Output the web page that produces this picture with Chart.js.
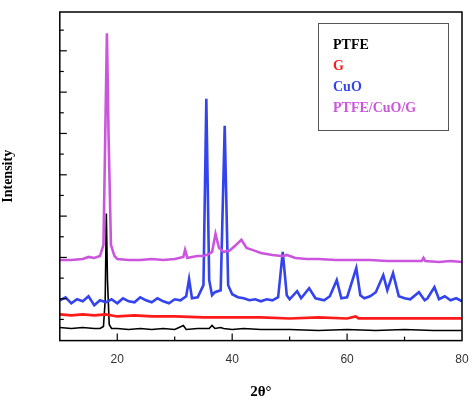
<!DOCTYPE html>
<html><head><meta charset="utf-8">
<script src="https://cdn.jsdelivr.net/npm/chart.js@4"></script>
<style>html,body{margin:0;padding:0;background:#fff}#w{width:474px;height:401px}</style>
</head><body><div id="w"><canvas id="c"></canvas></div>
<script>
const seriesNames = ["PTFE","G","CuO","PTFE/CuO/G"];
const seriesColors = ["#000000","#ff1a1a","#3344ee","#cc55dd"];
const ptfeX = [10,12,14,16,17,17.6,17.9,18.1,18.3,18.6,19,20,22,24,26,28,30,31.5,32,34,36,36.5,37,38,38.5,40,42,45,50,55,60,65,70,75,80];
const ptfeY = [13,12,13,12,12,14,40,126,60,16,12,12,11,12,11,12,11,15,11,12,12,15,12,13,12,11,12,11,11,10,11,10,11,10,10];
const gX = [10,12,14,16,18,20,23,26,30,35,40,45,50,55,60,61.5,62,65,70,75,80];
const gY = [26,25,26,25,26,24,25,24,24,23,23,23,22,23,22,24,22,22,22,22,22];
const cuoX = [10,11,12,13,14,15,16,17,18,19,20,21,22,23,24,25,26,27,28,29,30,31,32,32.5,33,34,35,35.5,36,36.5,37,38,38.7,39.3,40,41,42,43,44,45,46,47,48,48.8,49.5,50,51.3,52,53.4,54.5,56,57,58.2,59,60,61.6,62.3,63,64,65,66.3,67,68,69,70,71,72.5,73.5,74,75.2,76,77,78,79,80];
const cuoY = [40,43,37,41,39,44,35,40,38,41,37,42,39,38,43,40,38,42,39,37,41,40,44,61,42,43,55,240,60,45,48,50,213,55,46,43,42,40,41,39,41,40,43,88,45,41,49,42,52,42,40,44,60,42,43,72,45,42,44,48,65,50,67,44,42,41,48,40,42,53,41,44,40,42,39];
const compX = [10,12,14,15,16,17,17.6,17.9,18.2,18.5,18.9,19.5,20,22,24,26,28,30,31.5,31.8,32.2,33,34,35,36,36.5,37.1,37.7,38.5,39.5,40.5,41.6,42.5,43.5,45,47,48.6,49,49.5,51,53,55,58,61,64,67,70,73,73.3,73.6,76,78,80];
const compY = [80,80,81,83,82,84,95,200,305,200,95,84,81,80,80,81,80,81,83,90,82,83,84,84,86,88,106,92,88,89,94,100,92,90,87,85,84,84,85,82,81,81,80,80,80,79,79,79,82,79,78,79,78];
const xTickLabels = [20,40,60,80];

const pts = (xs, ys) => xs.map((x, i) => ({x, y: ys[i]}));
const allX = [ptfeX, gX, cuoX, compX], allY = [ptfeY, gY, cuoY, compY];
const order = [3,2,1,0];
const datasets = order.map(i => ({label: seriesNames[i], data: pts(allX[i], allY[i]),
  borderColor: seriesColors[i], borderWidth: i===0?1.6:2.6, pointRadius: 0, tension: 0}));

const serif = "'Liberation Serif','DejaVu Serif',serif";
const deco = {
  id: 'deco',
  afterDraw(ch) {
    const c = ch.ctx, a = ch.chartArea, xs = ch.scales.x, ys = ch.scales.y;
    c.save();
    c.strokeStyle = '#000'; c.lineWidth = 1.5;
    c.strokeRect(a.left, a.top, a.right - a.left, a.bottom - a.top);
    c.lineWidth = 1.2;
    for (let v = 20; v <= 70; v += 10) {
      const p = xs.getPixelForValue(v), L = v % 20 === 0 ? 7 : 4;
      c.beginPath(); c.moveTo(p, a.bottom); c.lineTo(p, a.bottom - L); c.stroke();
    }
    for (let k = 0; k < 15; k++) {
      const v = 21 + 20.5 * k; if (v > ys.max) break;
      const p = ys.getPixelForValue(v), L = k % 2 === 0 ? 4 : 7;
      c.beginPath(); c.moveTo(a.left, p); c.lineTo(a.left + L, p); c.stroke();
    }
    c.strokeStyle = '#555'; c.lineWidth = 1;
    c.strokeRect(318.5, 23.5, 130, 107);
    c.font = 'bold 14px ' + serif; c.textBaseline = 'middle';
    [0,1,2,3].forEach(i => { c.fillStyle = seriesColors[i]; c.fillText(seriesNames[i], 333, 45 + i * 21); });
    c.restore();
  }
};

new Chart(document.getElementById('c'), {
  type: 'line',
  data: {datasets},
  options: {
    responsive: true, maintainAspectRatio: false, animation: false,
    layout: {padding: {top: 12, right: 12, left: 0, bottom: 0}},
    plugins: {legend: {display: false}, tooltip: {enabled: false}},
    scales: {
      x: {type: 'linear', min: 10, max: 80,
        afterBuildTicks: s => { s.ticks = xTickLabels.map(v => ({value: v})); },
        grid: {display: false}, border: {display: false},
        ticks: {color: '#333', font: {size: 12, family: "'Liberation Sans',Arial,sans-serif"}, padding: 4},
        title: {display: true, text: '2θ°', color: '#000', font: {size: 15, weight: 'bold', family: serif}, padding: {top: 12, bottom: 0}}},
      y: {type: 'linear', min: 0, max: 326,
        grid: {display: false}, border: {display: false},
        ticks: {display: false},
        title: {display: true, text: 'Intensity', color: '#000', font: {size: 14, weight: 'bold', family: serif}, padding: {top: 0, bottom: 35}}}
    }
  },
  plugins: [deco]
});
</script></body></html>
